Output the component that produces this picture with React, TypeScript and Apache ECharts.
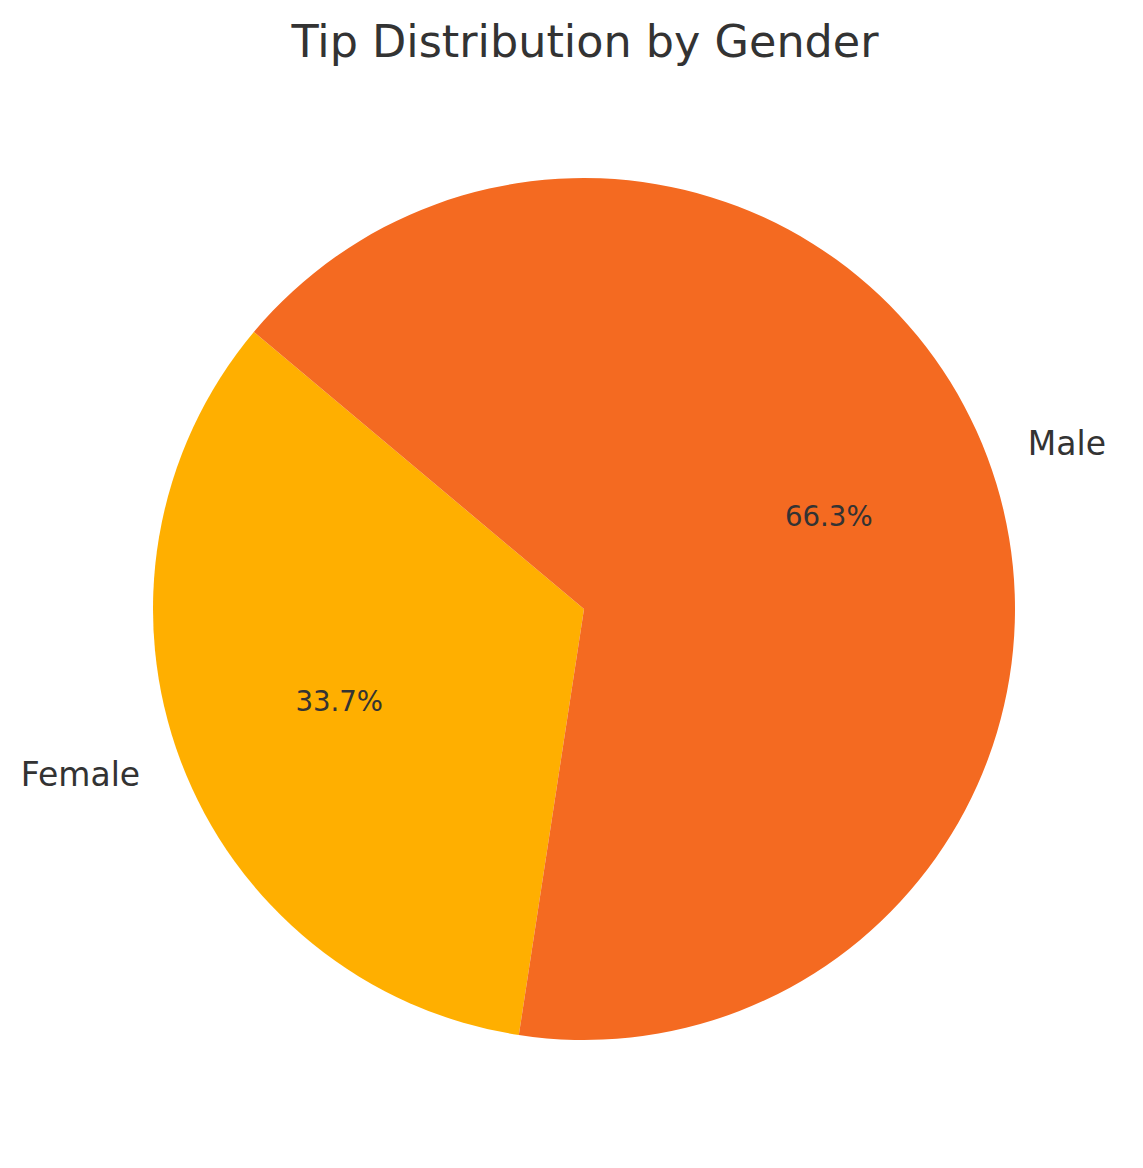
import React, { useEffect, useRef } from "react";
import * as echarts from "echarts";

const categories = ["Female", "Male"];
const values = [246.51, 485.07];
const colors = ["#FFAF00", "#F46A21"];
const titleText = "Tip Distribution by Gender";

export default function App() {
  const ref = useRef<HTMLDivElement>(null);
  useEffect(() => {
    document.body.style.margin = "0";
    const chart = echarts.init(ref.current!, undefined, { renderer: "svg" });
    const R = 431;
    const data = categories.map((c, i) => ({
      name: c,
      value: values[i],
      itemStyle: { color: colors[i] },
    }));
    const total = values.reduce((a, b) => a + b, 0);
    chart.setOption({
      animation: false,
      backgroundColor: "#ffffff",
      title: {
        text: titleText,
        left: 580,
        top: 14,
        textAlign: "center",
        textStyle: {
          fontFamily: "DejaVu Sans",
          fontSize: 44.5,
          fontWeight: "normal",
          color: "#333333",
        },
      },
      series: [
        {
          type: "pie",
          center: [584, 609],
          radius: [0, R],
          startAngle: 140,
          clockwise: false,
          silent: true,
          data,
          itemStyle: { borderWidth: 0 },
          label: {
            show: true,
            position: "outside",
            formatter: "{b}",
            fontFamily: "DejaVu Sans",
            fontSize: 33,
            color: "#333333",
          },
          labelLine: { show: false, length: 38, length2: 0 },
          emphasis: { disabled: true },
        },
        {
          type: "pie",
          center: [584, 609],
          radius: [R * 0.2, R],
          startAngle: 140,
          clockwise: false,
          silent: true,
          data: categories.map((c, i) => ({
            name: c,
            value: values[i],
            itemStyle: { color: "rgba(0,0,0,0)" },
          })),
          label: {
            show: true,
            position: "inside",
            formatter: (p: any) => ((p.value / total) * 100).toFixed(1) + "%",
            fontFamily: "DejaVu Sans",
            fontSize: 27.6,
            color: "#333333",
          },
          labelLine: { show: false },
          emphasis: { disabled: true },
        },
      ],
    });
    return () => chart.dispose();
  }, []);
  return <div ref={ref} style={{ width: 1143, height: 1168 }} />;
}
